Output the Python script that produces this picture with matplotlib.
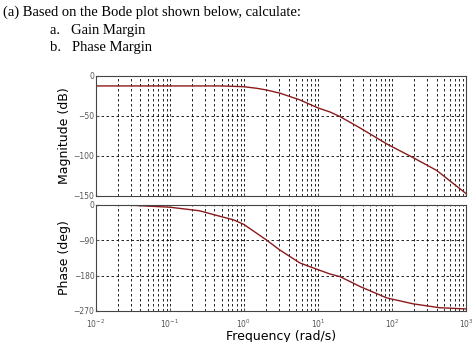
import numpy as np
import matplotlib.pyplot as plt
from matplotlib.ticker import LogLocator

# magnitude curve
w_mag = [0.01, 0.1, 0.5, 1.0, 1.5, 2.0, 3.1, 5.7, 10, 14.5, 20, 37, 85, 192, 400, 1000]
mag_db = [-12.5, -12.5, -12.5, -13.5, -15.5, -17.5, -21.7, -30, -40, -45, -51, -65, -85, -102, -118, -147]

# phase curve
w_ph = [0.01, 0.03, 0.1, 0.25, 0.43, 0.72, 1.0, 1.4, 2.0, 3.0, 5.7, 10, 14.5, 20, 37, 85, 192, 440, 1000]
phase_deg = [0, -1, -6, -15, -27, -38, -50, -69, -89, -114, -148, -165, -176, -183, -208, -237, -252, -262, -265]

line_col = '#8b1a1a'
tick_col = '#555555'

fig = plt.figure(figsize=(4.77, 3.42), dpi=100)

fig.text(0.006, 0.965, '(a) Based on the Bode plot shown below, calculate:',
         family='Liberation Serif', fontsize=10.5, va='center')
fig.text(0.105, 0.912, 'a.   Gain Margin', family='Liberation Serif', fontsize=10.5, va='center')
fig.text(0.105, 0.862, 'b.   Phase Margin', family='Liberation Serif', fontsize=10.5, va='center')

ax1 = fig.add_axes([0.201, 0.427, 0.776, 0.351])
ax2 = fig.add_axes([0.201, 0.091, 0.776, 0.310])

ax1.semilogx(w_mag, mag_db, color=line_col, lw=1)
ax1.set_ylim(-150, 0)
ax1.set_yticks([-150, -100, -50, 0])
ax1.set_ylabel('Magnitude (dB)', fontsize=9, labelpad=2)

ax2.semilogx(w_ph, phase_deg, color=line_col, lw=1)
ax2.set_ylim(-270, 0)
ax2.set_yticks([-270, -180, -90, 0])
ax2.set_ylabel('Phase (deg)', fontsize=9, labelpad=2)
ax2.set_xlabel('Frequency (rad/s)', fontsize=9, labelpad=0)

for ax in (ax1, ax2):
    ax.set_xlim(0.01, 1000)
    ax.xaxis.set_major_locator(LogLocator(base=10, numticks=10))
    ax.xaxis.set_minor_locator(LogLocator(base=10, subs=np.arange(2, 10), numticks=20))
    ax.grid(True, which='both', axis='x', color='black', ls=(0, (3, 3)), lw=0.6)
    ax.grid(True, which='major', axis='y', color='black', ls=(0, (3, 3)), lw=0.6)
    ax.tick_params(which='both', direction='in', labelsize=5.5, colors=tick_col,
                   length=2, pad=1)
    ax.tick_params(which='minor', length=1)
    for s in ax.spines.values():
        s.set_color('#444444')
        s.set_linewidth(0.8)

ax1.tick_params(axis='x', which='both', labelbottom=False)
ax2.tick_params(axis='x', which='major', pad=5)

plt.savefig('out.png', dpi=100)
